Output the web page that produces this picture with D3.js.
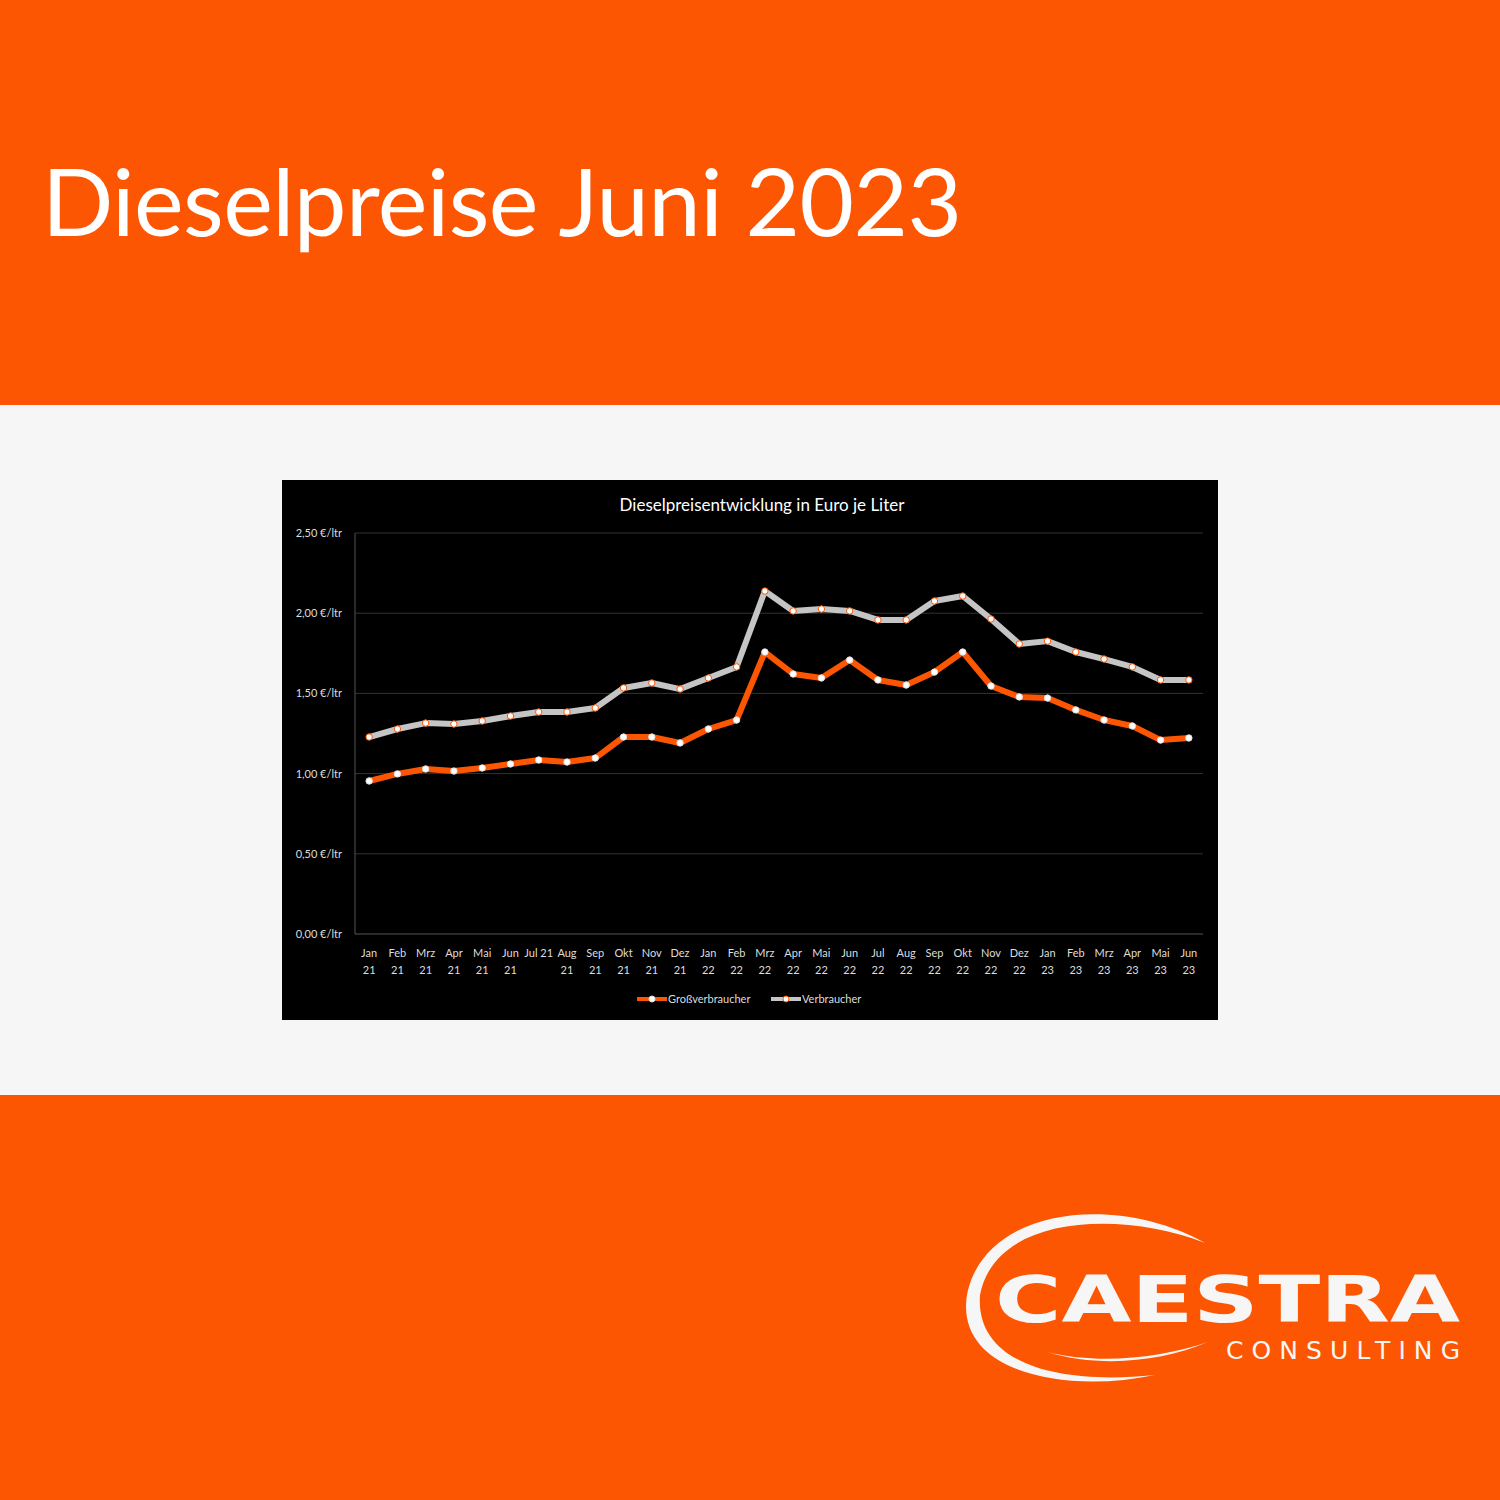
<!DOCTYPE html>
<html><head><meta charset="utf-8">
<script src="https://cdn.jsdelivr.net/npm/d3@7"></script>
<style>body{margin:0;}svg{display:block;}</style>
</head><body>
<svg id="c" width="1500" height="1500"></svg>
<script>
const months = ["Jan 21","Feb 21","Mrz 21","Apr 21","Mai 21","Jun 21","Jul 21","Aug 21","Sep 21","Okt 21","Nov 21","Dez 21","Jan 22","Feb 22","Mrz 22","Apr 22","Mai 22","Jun 22","Jul 22","Aug 22","Sep 22","Okt 22","Nov 22","Dez 22","Jan 23","Feb 23","Mrz 23","Apr 23","Mai 23","Jun 23"];
const grossverbraucher = [0.954,0.998,1.029,1.016,1.035,1.06,1.085,1.072,1.097,1.228,1.228,1.191,1.278,1.334,1.758,1.621,1.596,1.708,1.584,1.552,1.633,1.758,1.546,1.478,1.471,1.397,1.334,1.297,1.209,1.222];
const verbraucher = [1.228,1.278,1.315,1.309,1.328,1.359,1.384,1.384,1.409,1.534,1.565,1.527,1.596,1.665,2.138,2.014,2.026,2.014,1.958,1.958,2.076,2.107,1.964,1.808,1.826,1.758,1.714,1.665,1.584,1.584];
const yTicks = [0,0.5,1,1.5,2,2.5];

const svg = d3.select("#c");
const OR = "#fd5602";
svg.append("rect").attr("width",1500).attr("height",1500).attr("fill",OR);
svg.append("rect").attr("y",405).attr("width",1500).attr("height",690).attr("fill","#f6f6f6");
svg.append("text").attr("x",42).attr("y",236).attr("fill","#fff")
  .attr("font-family","Lato, 'Open Sans', sans-serif").attr("font-size",94).attr("font-weight",400)
  .attr("textLength",920).attr("lengthAdjust","spacing")
  .text("Dieselpreise Juni 2023");

svg.append("rect").attr("x",282).attr("y",480).attr("width",936).attr("height",540).attr("fill","#000");
svg.append("text").attr("x",762).attr("y",511).attr("text-anchor","middle").attr("fill","#fff")
  .attr("font-family","Lato, sans-serif").attr("font-size",17).text("Dieselpreisentwicklung in Euro je Liter");

const x = d3.scaleBand().domain(months).range([355,1203]);
const y = d3.scaleLinear().domain([0,2.5]).range([934,533]);
const fmt = v => d3.format(".2f")(v).replace(".",",")+" €/ltr";
const g = svg.append("g").attr("font-family","Lato, sans-serif");
yTicks.forEach(t=>{
  g.append("line").attr("x1",355).attr("x2",1203).attr("y1",y(t)).attr("y2",y(t))
    .attr("stroke", t===0?"#555":"#333").attr("stroke-width",1);
  g.append("text").attr("x",342).attr("y",y(t)+4).attr("text-anchor","end").attr("fill","#ddd")
    .attr("font-size",11).text(fmt(t));
});
g.append("line").attr("x1",355).attr("x2",355).attr("y1",533).attr("y2",934).attr("stroke","#555");
months.forEach(m=>{
  const cx = x(m)+x.bandwidth()/2;
  const [a,b] = m.split(" ");
  if (m==="Jul 21") {
    g.append("text").attr("x",cx).attr("y",957).attr("text-anchor","middle").attr("fill","#ddd").attr("font-size",11).text(m);
  } else {
    g.append("text").attr("x",cx).attr("y",957).attr("text-anchor","middle").attr("fill","#ddd").attr("font-size",11).text(a);
    g.append("text").attr("x",cx).attr("y",974).attr("text-anchor","middle").attr("fill","#ddd").attr("font-size",11).text(b);
  }
});
const line = d3.line().x((d,i)=>x(months[i])+x.bandwidth()/2).y(d=>y(d));
function series(data,color,dotStroke){
  g.append("path").attr("d",line(data)).attr("fill","none").attr("stroke",color).attr("stroke-width",6).attr("stroke-linejoin","round");
  g.selectAll(null).data(data).enter().append("circle")
    .attr("cx",(d,i)=>x(months[i])+x.bandwidth()/2).attr("cy",d=>y(d)).attr("r",3.2)
    .attr("fill","#fff").attr("stroke",dotStroke).attr("stroke-width",1);
}
series(verbraucher,"#c5c5c5",OR);
series(grossverbraucher,OR,"#ddd");

const leg=[["Großverbraucher",OR,637],["Verbraucher","#c5c5c5",771]];
leg.forEach(([n,c,lx])=>{
  g.append("line").attr("x1",lx).attr("x2",lx+30).attr("y1",999).attr("y2",999).attr("stroke",c).attr("stroke-width",4);
  g.append("circle").attr("cx",lx+15).attr("cy",999).attr("r",3).attr("fill","#fff").attr("stroke",c===OR?"#ddd":OR);
  g.append("text").attr("x",lx+31).attr("y",1003).attr("fill","#ddd").attr("font-size",11).text(n);
});

const L = svg.append("g");
L.append("path").attr("d","M1205,1243 C1120,1195 990,1205 968,1290 C950,1370 1060,1395 1155,1375 C1060,1385 975,1365 980,1295 C995,1215 1120,1210 1205,1243 Z").attr("fill","#f6f6f6");
L.append("path").attr("d","M1047,1352 C1100,1365 1160,1358 1208,1342 C1160,1362 1100,1368 1047,1352 Z").attr("fill","#f6f6f6");
L.append("text").attr("x",995).attr("y",1322).attr("fill","#f6f6f6").attr("font-family","'DejaVu Sans', sans-serif")
  .attr("font-size",64).attr("font-weight","bold").attr("textLength",465).attr("lengthAdjust","spacingAndGlyphs").text("CAESTRA");
L.append("text").attr("x",1226).attr("y",1359).attr("fill","#f6f6f6").attr("font-family","'DejaVu Sans', sans-serif")
  .attr("font-size",25).attr("textLength",234).attr("lengthAdjust","spacing").text("CONSULTING");
</script>
</body></html>
